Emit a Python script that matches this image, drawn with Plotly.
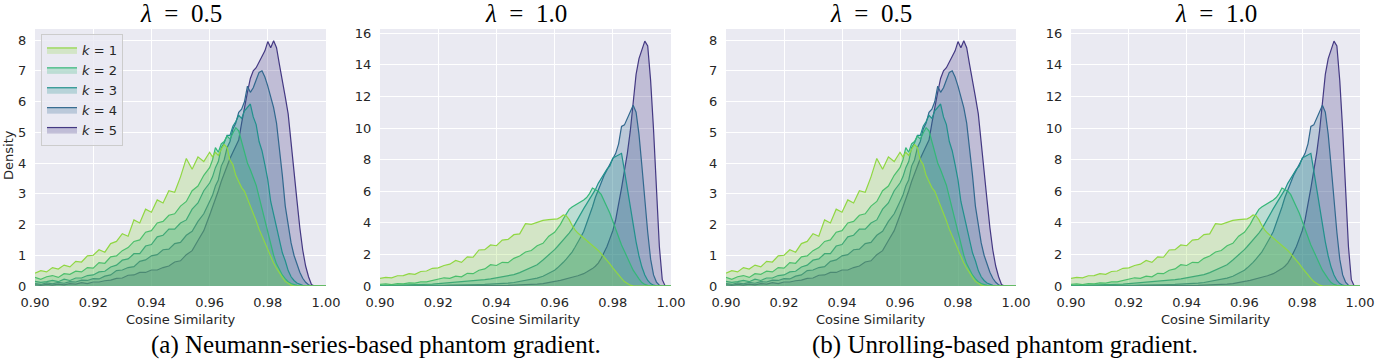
import plotly.graph_objects as go

W, H = 1377, 360

# Cosine-similarity bin positions (coarse to 0.96, finer above)
x_coarse = [round(0.900 + 0.002 * i, 3) for i in range(31)]
x_fine = [round(0.961 + 0.001 * i, 3) for i in range(40)]
cos_sim = x_coarse + x_fine

k_values = [1, 2, 3, 4, 5]
colors = ["#90D743", "#35B779", "#21918C", "#31688E", "#443983"]

# ---- lambda = 0.5 densities (k = 1..5) ----
lam05_k1 = [0.42, 0.50, 0.46, 0.60, 0.55, 0.68, 0.62, 0.80, 0.78, 0.98, 1.00, 1.18, 1.10, 1.38, 1.45, 1.70,
            1.62, 2.15, 2.05, 2.50, 2.40, 2.80, 2.70, 3.10, 3.05, 3.55, 4.15, 3.80, 4.20, 4.05, 4.35,
            4.20, 4.35, 4.25, 4.45, 4.60, 4.50, 4.10, 3.95, 3.60, 3.40, 3.20, 3.08, 2.85, 2.62, 2.40, 2.12,
            1.85, 1.62, 1.40, 1.17, 0.95, 0.75, 0.58, 0.42, 0.28, 0.15, 0.08, 0.03, 0, 0,
            0, 0, 0, 0, 0, 0, 0, 0, 0, 0]
lam05_k2 = [0.28, 0.22, 0.30, 0.34, 0.28, 0.40, 0.38, 0.48, 0.46, 0.60, 0.58, 0.76, 0.74, 0.95, 0.98, 1.15,
            1.25, 1.45, 1.50, 1.75, 1.80, 2.05, 2.10, 2.30, 2.35, 2.60, 2.75, 3.10, 3.25, 3.60, 3.85,
            4.10, 4.50, 4.35, 4.62, 4.70, 4.88, 4.78, 4.98, 5.15, 5.05, 4.70, 4.38, 4.00, 3.78, 3.50, 3.28,
            2.90, 2.50, 2.10, 1.72, 1.35, 1.00, 0.72, 0.52, 0.36, 0.24, 0.14, 0.08, 0.04, 0.02,
            0, 0, 0, 0, 0, 0, 0, 0, 0, 0]
lam05_k3 = [0.15, 0.12, 0.14, 0.18, 0.14, 0.22, 0.18, 0.26, 0.26, 0.34, 0.36, 0.46, 0.48, 0.62, 0.68, 0.84,
            0.88, 1.05, 1.05, 1.30, 1.35, 1.60, 1.65, 1.85, 1.85, 2.05, 2.15, 2.50, 2.70, 3.10, 3.35,
            3.55, 3.85, 4.05, 4.50, 4.65, 4.90, 4.90, 5.20, 5.35, 5.55, 5.45, 5.70, 5.80, 5.92, 5.50, 5.25,
            4.70, 4.40, 3.95, 3.45, 2.75, 2.35, 1.85, 1.52, 1.08, 0.82, 0.50, 0.30, 0.18, 0.10,
            0.05, 0.02, 0, 0, 0, 0, 0, 0, 0, 0]
lam05_k4 = [0.08, 0.05, 0.10, 0.07, 0.12, 0.09, 0.14, 0.13, 0.19, 0.18, 0.24, 0.23, 0.32, 0.36, 0.50, 0.52,
            0.60, 0.63, 0.80, 0.85, 0.98, 1.02, 1.18, 1.20, 1.38, 1.42, 1.65, 1.78, 2.10, 2.35, 2.75,
            2.95, 3.25, 3.45, 3.90, 4.10, 4.50, 4.70, 5.10, 5.30, 5.65, 5.75, 6.00, 6.50, 6.30, 6.45, 6.70,
            6.95, 7.00, 6.80, 6.50, 6.15, 5.80, 5.30, 4.50, 3.60, 2.60, 1.95, 1.40, 1.00, 0.70,
            0.45, 0.25, 0.12, 0.04, 0, 0, 0, 0, 0, 0]
lam05_k5 = [0.04, 0.02, 0.05, 0.03, 0.06, 0.04, 0.08, 0.06, 0.11, 0.08, 0.13, 0.13, 0.17, 0.19, 0.25, 0.26,
            0.35, 0.36, 0.44, 0.44, 0.52, 0.52, 0.60, 0.65, 0.78, 0.82, 1.02, 1.15, 1.48, 1.80, 2.30,
            2.55, 2.85, 3.10, 3.40, 3.65, 3.95, 4.15, 4.35, 4.55, 4.75, 5.30, 5.85, 6.30, 6.75, 7.00, 7.10,
            7.30, 7.45, 7.65, 7.95, 7.75, 7.98, 7.75, 7.20, 6.60, 6.15, 5.60, 4.60, 3.70, 2.80,
            1.90, 1.17, 0.65, 0.30, 0.05, 0, 0, 0, 0, 0]

# ---- lambda = 1.0 densities (k = 1..5) ----
lam10_k1 = [0.48, 0.55, 0.52, 0.65, 0.66, 0.78, 0.74, 0.92, 0.95, 1.12, 1.15, 1.30, 1.38, 1.62, 1.50, 1.85,
            1.82, 2.28, 2.30, 2.60, 2.55, 2.90, 2.95, 3.25, 3.30, 3.95, 3.90, 4.05, 4.15, 4.20, 4.25,
            4.25, 4.35, 4.50, 4.45, 4.20, 3.85, 3.55, 3.35, 3.20, 3.05, 2.90, 2.75, 2.60, 2.40, 2.25, 2.05,
            1.85, 1.65, 1.40, 1.15, 0.90, 0.70, 0.48, 0.28, 0.15, 0.05, 0.01, 0, 0, 0,
            0, 0, 0, 0, 0, 0, 0, 0, 0, 0]
lam10_k2 = [0.10, 0.13, 0.09, 0.15, 0.14, 0.20, 0.18, 0.26, 0.26, 0.35, 0.44, 0.52, 0.48, 0.62, 0.58, 0.80,
            0.78, 1.00, 1.08, 1.35, 1.30, 1.50, 1.48, 1.75, 1.90, 2.15, 2.25, 2.55, 2.70, 3.15, 3.40,
            3.65, 3.90, 4.25, 4.60, 4.85, 5.00, 5.10, 5.25, 5.30, 5.45, 5.60, 5.85, 6.20, 6.10, 6.00, 5.80,
            5.45, 5.00, 4.60, 4.10, 3.55, 3.00, 2.60, 2.20, 1.85, 1.40, 1.00, 0.70, 0.45, 0.22,
            0.10, 0.04, 0.01, 0, 0, 0, 0, 0, 0, 0]
lam10_k3 = [0.02, 0.03, 0.02, 0.04, 0.04, 0.05, 0.06, 0.08, 0.10, 0.12, 0.15, 0.18, 0.20, 0.22, 0.25, 0.28,
            0.30, 0.35, 0.40, 0.45, 0.52, 0.58, 0.62, 0.72, 0.85, 1.00, 1.20, 1.35, 1.65, 1.95, 2.30,
            2.50, 2.70, 2.90, 3.10, 3.35, 3.60, 3.95, 4.30, 4.60, 4.90, 5.20, 5.50, 5.80, 6.10, 6.50, 6.80,
            7.10, 7.40, 7.60, 8.10, 8.20, 8.30, 8.40, 7.30, 6.20, 5.00, 3.80, 2.80, 1.90, 1.20,
            0.70, 0.35, 0.15, 0.05, 0.01, 0, 0, 0, 0, 0]
lam10_k4 = [0, 0, 0, 0.01, 0, 0.01, 0.01, 0.02, 0.02, 0.03, 0.03, 0.04, 0.05, 0.05, 0.06, 0.07,
            0.08, 0.09, 0.10, 0.11, 0.12, 0.15, 0.18, 0.22, 0.28, 0.35, 0.42, 0.50, 0.62, 0.80, 1.00,
            1.15, 1.30, 1.50, 1.70, 1.90, 2.15, 2.45, 2.75, 3.10, 3.45, 3.95, 4.45, 5.00, 5.60, 6.10, 6.60,
            7.00, 7.35, 7.70, 8.00, 8.40, 9.00, 10.10, 10.20, 10.60, 11.10, 11.45, 11.00, 9.60, 7.60,
            5.40, 3.40, 1.70, 0.70, 0.25, 0.05, 0, 0, 0, 0]
lam10_k5 = [0, 0, 0, 0, 0, 0, 0, 0, 0, 0, 0, 0, 0, 0, 0.01, 0.01,
            0.01, 0.02, 0.02, 0.02, 0.03, 0.03, 0.04, 0.05, 0.06, 0.08, 0.10, 0.12, 0.15, 0.20, 0.28,
            0.32, 0.36, 0.40, 0.45, 0.50, 0.55, 0.60, 0.65, 0.70, 0.78, 0.88, 0.98, 1.10, 1.25, 1.45, 1.75,
            2.10, 2.50, 3.00, 3.50, 4.20, 5.10, 6.20, 7.30, 8.40, 9.80, 11.60, 13.40, 14.40, 15.00,
            15.50, 15.20, 13.00, 9.90, 5.70, 2.50, 0.40, 0, 0, 0]

lam05 = [lam05_k1, lam05_k2, lam05_k3, lam05_k4, lam05_k5]
lam10 = [lam10_k1, lam10_k2, lam10_k3, lam10_k4, lam10_k5]
for s in lam05 + lam10:
    assert len(s) == len(cos_sim), len(s)

# (a) Neumann-series-based and (b) Unrolling-based panels show the same curves
panels = [
    {"lam": "0.5", "data": lam05, "ymax": 8.36, "dtick": 1, "x0": 35, "x1": 326},
    {"lam": "1.0", "data": lam10, "ymax": 16.27, "dtick": 2, "x0": 380, "x1": 671},
    {"lam": "0.5", "data": lam05, "ymax": 8.36, "dtick": 1, "x0": 726, "x1": 1016},
    {"lam": "1.0", "data": lam10, "ymax": 16.27, "dtick": 2, "x0": 1071, "x1": 1360},
]
captions = [("(a) Neumann-series-based phantom gradient.", 376),
            ("(b) Unrolling-based phantom gradient.", 1005)]
x_ticks = [0.90, 0.92, 0.94, 0.96, 0.98, 1.00]


def rgba(hexc, a):
    h = hexc.lstrip("#")
    return f"rgba({int(h[0:2],16)},{int(h[2:4],16)},{int(h[4:6],16)},{a})"


fig = go.Figure()
plot_top, plot_bot = 29, 286
tick_font = dict(family="DejaVu Sans", size=13, color="#262626")
annotations = []

for p_i, p in enumerate(panels):
    n = "" if p_i == 0 else str(p_i + 1)
    # seaborn layers hue levels in reverse: k=5 first, k=1 on top
    for k_i in reversed(range(len(k_values))):
        k = k_values[k_i]
        fig.add_trace(go.Scatter(
            x=cos_sim, y=p["data"][k_i], mode="lines",
            line=dict(color=colors[k_i], width=1.2),
            fill="tozeroy", fillcolor=rgba(colors[k_i], 0.25),
            name=f"<i>k</i> = {k}", showlegend=(p_i == 0), legendrank=k,
            xaxis="x" + n, yaxis="y" + n, hoverinfo="skip",
        ))
    dom_x = [p["x0"] / W, p["x1"] / W]
    fig.update_layout(**{
        "xaxis" + n: dict(domain=dom_x, range=[0.90, 1.00], anchor="y" + n, automargin=False,
                          tickvals=x_ticks, ticktext=[f"{v:.2f}" for v in x_ticks],
                          showgrid=True, gridcolor="white", gridwidth=1.2, zeroline=False,
                          showline=False, ticks="outside", ticklen=4, tickcolor="rgba(0,0,0,0)",
                          tickfont=tick_font),
        "yaxis" + n: dict(domain=[1 - plot_bot / H, 1 - plot_top / H], range=[0, p["ymax"]],
                          anchor="x" + n, dtick=p["dtick"], tick0=0, automargin=False,
                          showgrid=True, gridcolor="white", gridwidth=1.2, zeroline=False,
                          showline=False, ticks="outside", ticklen=5, tickcolor="rgba(0,0,0,0)",
                          tickfont=tick_font),
    })
    cx = (p["x0"] + p["x1"]) / 2 / W
    annotations.append(dict(text=f"<i>λ</i>  =  {p['lam']}",
                            x=cx, y=1 - 14 / H, xref="paper", yref="paper",
                            showarrow=False, xanchor="center", yanchor="middle",
                            font=dict(family="Liberation Serif", size=25, color="black")))
    annotations.append(dict(text="Cosine Similarity", x=cx, y=1 - 319 / H, xref="paper", yref="paper",
                            showarrow=False, xanchor="center", yanchor="middle",
                            font=dict(family="DejaVu Sans", size=13, color="#262626")))

annotations.append(dict(text="Density", x=8 / W, y=1 - 155 / H, xref="paper", yref="paper",
                        showarrow=False, textangle=-90, xanchor="center", yanchor="middle",
                        font=dict(family="DejaVu Sans", size=13, color="#262626")))
for text, cxp in captions:
    annotations.append(dict(text=text, x=cxp / W, y=1 - 345 / H, xref="paper", yref="paper",
                            showarrow=False, xanchor="center", yanchor="middle",
                            font=dict(family="Liberation Serif", size=25, color="black")))

fig.update_layout(
    width=W, height=H, margin=dict(l=0, r=0, t=0, b=0),
    paper_bgcolor="white", plot_bgcolor="#EAEAF2",
    annotations=annotations,
    legend=dict(x=41 / W, y=1 - 34 / H, xanchor="left", yanchor="top",
                bgcolor="rgba(234,234,242,0.8)", bordercolor="#CCCCCC", borderwidth=1,
                font=dict(family="DejaVu Sans", size=13, color="#262626"),
                tracegroupgap=0, itemwidth=30),
)

# the page's default 8px body margin would shift the 1377x360 figure out of the window
fig.write_html("out.html", config={"displayModeBar": False},
               post_script="document.body.style.margin='0px';")
